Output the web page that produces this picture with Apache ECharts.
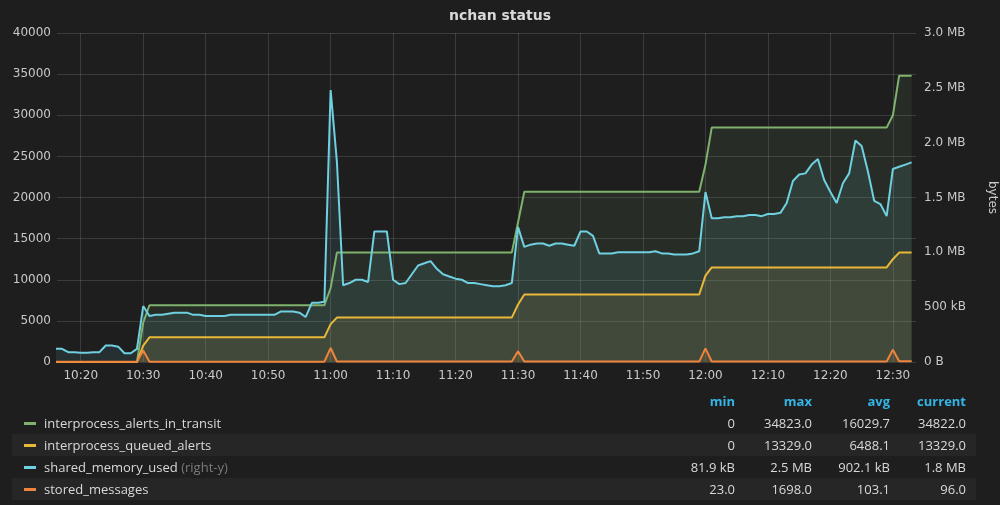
<!DOCTYPE html>
<html lang="en">
<head>
  <meta charset="UTF-8">
  <title>nchan status</title>
  <style>
  html, body {
    margin: 0;
    padding: 0;
    width: 1000px;
    height: 505px;
    background: #1f1e1f;
    overflow: hidden;
    font-family: "Open Sans", "DejaVu Sans", sans-serif;
  }
  .main {
    position: absolute;
    left: 0; top: 0;
    width: 1000px;
    height: 505px;
  }
  .legend {
    position: absolute;
    left: 12px; top: 390px;
    width: 964px;
    font-size: 13px;
    color: #d8d9da;
  }
  .row {
    position: relative;
    height: 22px;
    line-height: 22px;
  }
  .row.alt { background: #262626; }
  .row .sw {
    position: absolute; left: 12px; top: 10px;
    width: 12px; height: 3px;
  }
  .row .name { position: absolute; left: 32px; }
  .row .name i { font-style: normal; color: #7b7b7b; }
  .row .v { position: absolute; text-align: right; width: 80px; }
  .head { color: #33b5e5; font-weight: bold; }
  </style>
</head>
<body>
<div class="main"></div>
<div class="legend"></div>
<script src="https://cdn.jsdelivr.net/npm/echarts@6/dist/echarts.min.js"></script>
<script>
// one sample per minute, starting at 10:16 (x in minutes after 10:00)
var startMinute = 16;

// step series, written as [value, number of minutes]
var transitRuns = [[0, 14], [4800, 1], [6900, 29], [9000, 1], [13300, 29], [17000, 1],
  [20700, 29], [24000, 1], [28500, 29], [30000, 1], [34800, 3]];
var queuedRuns = [[0, 14], [2000, 1], [3000, 29], [4600, 1], [5400, 29], [7000, 1],
  [8200, 29], [10500, 1], [11500, 29], [12500, 1], [13300, 3]];
var storedRuns = [[30, 14], [1400, 1], [40, 29], [1700, 1], [60, 29], [1300, 1],
  [50, 29], [1650, 1], [60, 29], [1500, 1], [80, 3]];

// shared memory in MB
var sharedMemory = [
  0.12, 0.12, 0.09, 0.09, 0.085, 0.085, 0.09, 0.09, 0.15, 0.15, 0.14, 0.08, 0.08, 0.12,
  0.51, 0.42, 0.43, 0.43, 0.44, 0.45, 0.45, 0.45, 0.43, 0.43,
  0.42, 0.42, 0.42, 0.42, 0.43, 0.43, 0.43, 0.43, 0.43, 0.43,
  0.43, 0.43, 0.46, 0.46, 0.46, 0.45, 0.41, 0.54, 0.54, 0.55,
  2.48, 1.83, 0.70, 0.72, 0.75, 0.75, 0.73, 1.19, 1.19, 1.19,
  0.75, 0.71, 0.72, 0.80, 0.88, 0.90, 0.92, 0.85, 0.80, 0.78,
  0.76, 0.75, 0.72, 0.72, 0.71, 0.70, 0.69, 0.69, 0.70, 0.72,
  1.23, 1.05, 1.07, 1.08, 1.08, 1.06, 1.08, 1.08, 1.07, 1.06,
  1.19, 1.19, 1.15, 0.99, 0.99, 0.99, 1.00, 1.00, 1.00, 1.00,
  1.00, 1.00, 1.01, 0.99, 0.99, 0.98, 0.98, 0.98, 0.99, 1.01,
  1.55, 1.31, 1.31, 1.32, 1.32, 1.33, 1.33, 1.34, 1.34, 1.33,
  1.35, 1.35, 1.36, 1.45, 1.65, 1.71, 1.72, 1.80, 1.85, 1.66,
  1.55, 1.45, 1.63, 1.72, 2.02, 1.97, 1.74, 1.47, 1.44, 1.33,
  1.76, 1.78, 1.80, 1.82
];

// time tick labels
var tickLabels = ['10:20', '10:30', '10:40', '10:50', '11:00', '11:10', '11:20',
  '11:30', '11:40', '11:50', '12:00', '12:10', '12:20', '12:30'];

var names = ['interprocess_alerts_in_transit', 'interprocess_queued_alerts', 'shared_memory_used', 'stored_messages'];
var colors = ['#7eb26d', '#eab839', '#6ed0e0', '#ef843c'];
var statHeads = ['min', 'max', 'avg', 'current'];
var statRows = [
  ['0', '34823.0', '16029.7', '34822.0'],
  ['0', '13329.0', '6488.1', '13329.0'],
  ['81.9 kB', '2.5 MB', '902.1 kB', '1.8 MB'],
  ['23.0', '1698.0', '103.1', '96.0']
];
var leftTicks = [0, 40000, 5000];
var rightTicks = [0, 3, 0.5];

function expand(runs) {
  var out = [];
  runs.forEach(function(r) { for (var k = 0; k < r[1]; k++) out.push(r[0]); });
  return out;
}
function withTime(values) {
  return values.map(function(v, i) { return [startMinute + i, v]; });
}
function pad(n) { return (n < 10 ? '0' : '') + n; }
var tickMinutes = tickLabels.map(function(s) {
  var p = s.split(':');
  return (+p[0] - 10) * 60 + (+p[1]);
});

function mkSeries(i, values, axis) {
  return {
    name: names[i], type: 'line', yAxisIndex: axis, data: withTime(values),
    showSymbol: false, smooth: false,
    lineStyle: { width: 2, color: colors[i] },
    itemStyle: { color: colors[i] },
    areaStyle: { color: colors[i], opacity: 0.1 }
  };
}

var axisText = { color: '#c8c9ca', fontSize: 12, fontFamily: 'DejaVu Sans' };
var myChart = echarts.init(document.querySelector('.main'));
myChart.setOption({
  backgroundColor: 'transparent',
  animation: false,
  title: {
    text: 'nchan status', left: 'center', top: 4,
    textStyle: { color: '#d8d9da', fontSize: 14, fontWeight: 'bold', fontFamily: 'DejaVu Sans' }
  },
  grid: { left: 57, right: 84, top: 33, bottom: 143, outerBoundsMode: 'none', containLabel: false },
  xAxis: {
    type: 'value', min: 16.2, max: 153.7,
    axisLine: { show: false },
    axisTick: { show: false, customValues: tickMinutes },
    splitLine: { show: true, lineStyle: { color: 'rgba(255,255,255,0.13)' } },
    axisLabel: Object.assign({
      customValues: tickMinutes,
      formatter: function(v) { return pad(10 + Math.floor(v / 60)) + ':' + pad(Math.round(v % 60)); }
    }, axisText)
  },
  yAxis: [{
    type: 'value', min: leftTicks[0], max: leftTicks[1], interval: leftTicks[2],
    axisLine: { show: false }, axisTick: { show: false },
    splitLine: { lineStyle: { color: 'rgba(255,255,255,0.13)' } },
    axisLabel: Object.assign({ margin: 6, formatter: function(v) { return String(v); } }, axisText)
  }, {
    type: 'value', min: rightTicks[0], max: rightTicks[1], interval: rightTicks[2],
    name: 'bytes', nameLocation: 'middle', nameGap: 70, nameRotate: -90,
    nameTextStyle: axisText,
    axisLine: { show: false }, axisTick: { show: false }, splitLine: { show: false },
    axisLabel: Object.assign({
      margin: 8,
      formatter: function(v) { return v === 0 ? '0 B' : v < 1 ? Math.round(v * 1000) + ' kB' : v.toFixed(1) + ' MB'; }
    }, axisText)
  }],
  series: [
    mkSeries(0, expand(transitRuns), 0),
    mkSeries(1, expand(queuedRuns), 0),
    mkSeries(2, sharedMemory, 1),
    mkSeries(3, expand(storedRuns), 0)
  ]
});

// legend table
var lg = document.querySelector('.legend');
var rights = [723, 800, 878, 954];
var html = '<div class="row head">';
statHeads.forEach(function(h, k) { html += '<span class="v" style="left:' + (rights[k] - 80) + 'px">' + h + '</span>'; });
html += '</div>';
names.forEach(function(n, i) {
  html += '<div class="row' + (i % 2 ? ' alt' : '') + '"><span class="sw" style="background:' + colors[i] + '"></span>' +
    '<span class="name">' + n + (i === 2 ? ' <i>(right-y)</i>' : '') + '</span>';
  statRows[i].forEach(function(s, k) { html += '<span class="v" style="left:' + (rights[k] - 80) + 'px">' + s + '</span>'; });
  html += '</div>';
});
lg.innerHTML = html;
</script>
</body>
</html>
